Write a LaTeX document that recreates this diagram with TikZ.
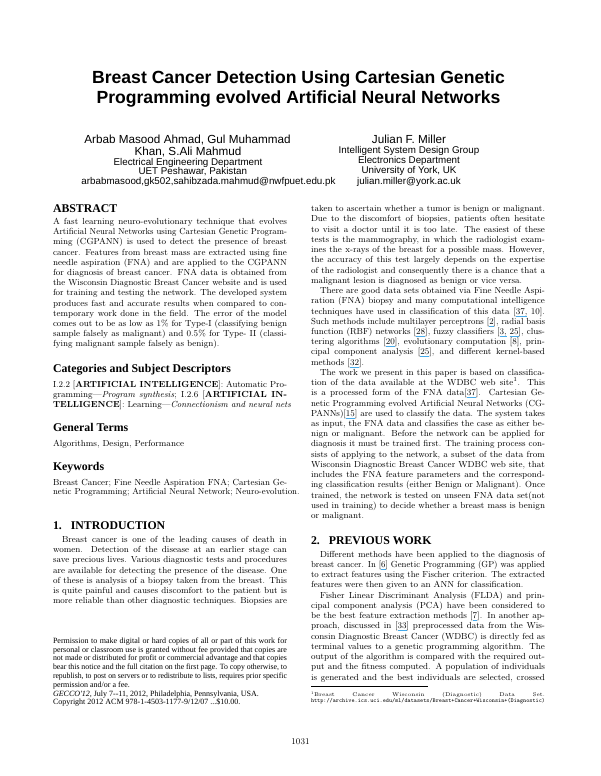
\documentclass[tikz,border=0pt]{standalone}
\usepackage{fontspec}
\setsansfont{Liberation Sans}
\newfontfamily\hdfont{Liberation Serif}
\definecolor{linkblue}{RGB}{70,170,235}
\newdimen\cw \cw=234pt
\newcommand\jlw[2]{\setbox2\hbox{#2}\ifdim\wd2>#1\relax\hbox{\resizebox{#1}{\height}{\box2}}\else\hbox to#1{#2}\fi}
\newcommand\jl[1]{\jlw{\cw}{#1}}
\newcommand\nl[1]{\hbox{#1}}
\newcommand\lk[1]{\setbox0\hbox{#1}\rlap{\color{linkblue}\rule[-2.3pt]{\wd0}{0.8pt}}\box0\relax}
\newcommand\stack[2]{\vtop{\hfuzz=30pt \hbadness=10000 \lineskiplimit=-100pt \baselineskip=#1 #2}}
\tikzset{
  x=1pt,y=1pt,
  block/.style={anchor=base west,inner sep=0pt,outer sep=0pt,text=black},
  bodytext/.style={block,font=\fontsize{8.8}{10.2}\selectfont},
  head/.style={block,font=\hdfont\bfseries\fontsize{11.8}{13}\selectfont},
  title/.style={anchor=base,inner sep=0pt,font=\sffamily\bfseries\fontsize{17.6}{20}\selectfont},
  author/.style={anchor=base,inner sep=0pt,font=\sffamily\fontsize{11.7}{13}\selectfont},
  affil/.style={anchor=base,inner sep=0pt,font=\sffamily\fontsize{9.8}{11}\selectfont},
}
\begin{document}
\begin{tikzpicture}
\useasboundingbox (0,0) rectangle (600,-776);
% title
\node[title] (t1) at (298.5,-83) {Breast Cancer Detection Using Cartesian Genetic};
\node[title] (t2) at (298.5,-103.5) {Programming evolved Artificial Neural Networks};
% authors
\node[author] (a1) at (187.5,-143) {Arbab Masood Ahmad, Gul Muhammad};
\node[author] (a2) at (188,-155) {Khan, S.Ali Mahmud};
\node[affil] (a3) at (188,-165) {Electrical Engineering Department};
\node[affil] (a4) at (192.8,-174.5) {UET Peshawar, Pakistan};
\node[affil] (a5) at (208.5,-184.5) {arbabmasood,gk502,sahibzada.mahmud@nwfpuet.edu.pk};
\node[author] (b1) at (409,-143) {Julian F. Miller};
\node[affil] (b2) at (409,-153.5) {Intelligent System Design Group};
\node[affil] (b3) at (409,-163) {Electronics Department};
\node[affil] (b4) at (409,-173.5) {University of York, UK};
\node[affil] (b5) at (409,-184) {julian.miller@york.ac.uk};
% left column
\node[head] (h1) at (53,-212) {ABSTRACT};
\node[bodytext] (abstract) at (53,-224.5) {\stack{10.2pt}{%
\jl{A fast learning neuro-evolutionary technique that evolves}
\jl{Artificial Neural Networks using Cartesian Genetic Program-}
\jl{ming (CGPANN) is used to detect the presence of breast}
\jl{cancer. Features from breast mass are extracted using fine}
\jl{needle aspiration (FNA) and are applied to the CGPANN}
\jl{for diagnosis of breast cancer. FNA data is obtained from}
\jl{the Wisconsin Diagnostic Breast Cancer website and is used}
\jl{for training and testing the network. The developed system}
\jl{produces fast and accurate results when compared to con-}
\jl{temporary work done in the field. The error of the model}
\jl{comes out to be as low as 1\% for Type-I (classifying benign}
\jl{sample falsely as malignant) and 0.5\% for Type- II (classi-}
\nl{fying malignant sample falsely as benign).}}};
\node[head] (h2) at (53,-372.7) {Categories and Subject Descriptors};
\node[bodytext] (cats) at (53,-387.7) {\stack{9.8pt}{%
\jl{I.2.2 [\textbf{ARTIFICIAL INTELLIGENCE}]: Automatic Pro-}
\jl{gramming---\textit{Program synthesis}; I.2.6 [\textbf{ARTIFICIAL IN-}}
\jlw{238pt}{\textbf{TELLIGENCE}]: Learning---\textit{Connectionism and neural nets}}}};
\node[head] (h3) at (53,-431.7) {General Terms};
\node[bodytext] (terms) at (53,-446.7) {Algorithms, Design, Performance};
\node[head] (h4) at (53,-470) {Keywords};
\node[bodytext] (keys) at (53,-485) {\stack{9.5pt}{%
\jl{Breast Cancer; Fine Needle Aspiration FNA; Cartesian Ge-}
\jlw{246.5pt}{netic Programming; Artificial Neural Network; Neuro-evolution.}}};
\node[head] (h5) at (53,-529) {1.\hspace{9pt}INTRODUCTION};
\node[bodytext] (intro) at (53,-542.7) {\stack{10.1pt}{%
\jl{\hspace*{9pt}Breast cancer is one of the leading causes of death in}
\jl{women. Detection of the disease at an earlier stage can}
\jl{save precious lives. Various diagnostic tests and procedures}
\jl{are available for detecting the presence of the disease. One}
\jl{of these is analysis of a biopsy taken from the breast. This}
\jl{is quite painful and causes discomfort to the patient but is}
\jl{more reliable than other diagnostic techniques. Biopsies are}}};
\node[block,font=\hdfont\fontsize{8}{9}\selectfont] (perm) at (53,-643.3) {\stack{8.8pt}{%
\jl{Permission to make digital or hard copies of all or part of this work for}
\jl{personal or classroom use is granted without fee provided that copies are}
\jl{not made or distributed for profit or commercial advantage and that copies}
\jl{bear this notice and the full citation on the first page. To copy otherwise, to}
\jl{republish, to post on servers or to redistribute to lists, requires prior specific}
\nl{permission and/or a fee.}
\nl{\textit{GECCO'12,} July 7--11, 2012, Philadelphia, Pennsylvania, USA.}
\nl{Copyright 2012 ACM 978-1-4503-1177-9/12/07 ...\$10.00.}}};
\node[anchor=base,inner sep=0pt,font=\fontsize{8.8}{10}\selectfont] (page) at (300.5,-744) {1031};
% right column
\node[bodytext] (col2) at (311,-211.7) {\stack{10.23pt}{%
\jl{taken to ascertain whether a tumor is benign or malignant.}
\jl{Due to the discomfort of biopsies, patients often hesitate}
\jl{to visit a doctor until it is too late. The easiest of these}
\jl{tests is the mammography, in which the radiologist exam-}
\jl{ines the x-rays of the breast for a possible mass. However,}
\jl{the accuracy of this test largely depends on the expertise}
\jl{of the radiologist and consequently there is a chance that a}
\nl{malignant lesion is diagnosed as benign or vice versa.}
\jl{\hspace*{9pt}There are good data sets obtained via Fine Needle Aspi-}
\jl{ration (FNA) biopsy and many computational intelligence}
\jl{techniques have used in classification of this data [\lk{37,} 10].}
\jl{Such methods include multilayer perceptrons [\lk{2}], radial basis}
\jl{function (RBF) networks [\lk{28}], fuzzy classifiers [\lk{3,} \lk{25}], clus-}
\jl{tering algorithms [\lk{20}], evolutionary computation [8], prin-}
\jl{cipal component analysis [\lk{25}], and different kernel-based}
\nl{methods [\lk{32}].}
\jl{\hspace*{9pt}The work we present in this paper is based on classifica-}
\jl{tion of the data available at the WDBC web site\textsuperscript{1}. This}
\jl{is a processed form of the FNA data[\lk{37}]. Cartesian Ge-}
\jl{netic Programming evolved Artificial Neural Networks (CG-}
\jl{PANNs)[\lk{15}] are used to classify the data. The system takes}
\jl{as input, the FNA data and classifies the case as either be-}
\jl{nign or malignant. Before the network can be applied for}
\jl{diagnosis it must be trained first. The training process con-}
\jl{sists of applying to the network, a subset of the data from}
\jl{Wisconsin Diagnostic Breast Cancer WDBC web site, that}
\jl{includes the FNA feature parameters and the correspond-}
\jl{ing classification results (either Benign or Malignant). Once}
\jl{trained, the network is tested on unseen FNA data set(not}
\jl{used in training) to decide whether a breast mass is benign}
\nl{or malignant.}}};
\node[head] (h6) at (311,-544.3) {2.\hspace{9pt}PREVIOUS WORK};
\node[bodytext] (prev) at (311,-557) {\stack{10.25pt}{%
\jl{\hspace*{9pt}Different methods have been applied to the diagnosis of}
\jl{breast cancer. In [\lk{6}] Genetic Programming (GP) was applied}
\jl{to extract features using the Fischer criterion. The extracted}
\nl{features were then given to an ANN for classification.}
\jl{\hspace*{9pt}Fisher Linear Discriminant Analysis (FLDA) and prin-}
\jl{cipal component analysis (PCA) have been considered to}
\jl{be the best feature extraction methods [\lk{7}]. In another ap-}
\jl{proach, discussed in [\lk{33}] preprocessed data from the Wis-}
\jl{consin Diagnostic Breast Cancer (WDBC) is directly fed as}
\jl{terminal values to a genetic programming algorithm. The}
\jl{output of the algorithm is compared with the required out-}
\jl{put and the fitness computed. A population of individuals}
\jl{is generated and the best individuals are selected, crossed}}};
\coordinate (fa) at (311,-686.7);
\coordinate (fb) at (427.7,-686.7);
\draw[line width=0.6pt] (fa) -- (fb);
\node[block,font=\fontsize{5.4}{6}\selectfont] (foot) at (311,-696.7) {\stack{5.8pt}{%
\jl{\textsuperscript{1}Breast\hfill Cancer\hfill Wisconsin\hfill (Diagnostic)\hfill Data\hfill Set.}
\jl{\fontsize{5.9}{6}\selectfont\ttfamily http://archive.ics.uci.edu/ml/datasets/Breast+Cancer+Wisconsin+(Diagnostic)}}};
\end{tikzpicture}
\end{document}
